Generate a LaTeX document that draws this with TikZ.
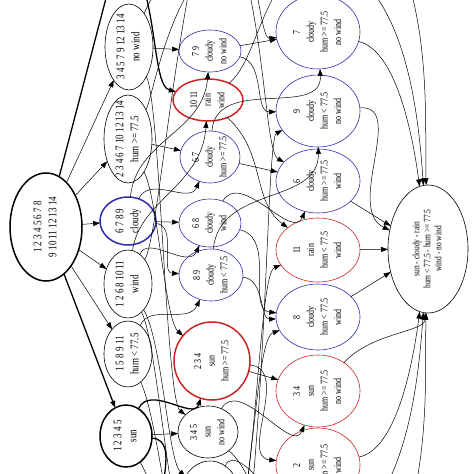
\documentclass[tikz,border=0pt]{standalone}
\usepackage{fontspec}
\setmainfont{Liberation Serif}
\usepackage{graphicx}
\usetikzlibrary{shapes.geometric,arrows.meta}
\definecolor{cblue}{RGB}{45,45,175}
\definecolor{cred}{RGB}{205,35,35}
\newcommand\lb[1]{\smash{\makebox[0pt]{\raisebox{-.32em}{\scalebox{1}[1.3]{\begin{tabular}{@{}c@{}}#1\end{tabular}}}}}}
\begin{document}
\begin{tikzpicture}[x=1pt,y=1pt,
 con/.style={ellipse, draw, rotate=90, inner sep=0pt, outer sep=0pt, line width=0.6pt, font=\fontsize{8}{10.5}\selectfont},
 bigf/.style={font=\fontsize{9}{11.5}\selectfont},
 smallf/.style={font=\fontsize{7.5}{8.5}\selectfont},
 thk/.style={line width=1.5pt},
 blu/.style={draw=cblue},
 rd/.style={draw=cred},
 wh/.style 2 args={minimum height=#1pt, minimum width=#2pt},
 ln/.style={line width=0.5pt, -{Triangle[length=7pt,width=5pt]}},
 tln/.style={ln, line width=1.3pt},
 d1/.style={out=-35,in=145}, d2/.style={out=-65,in=115},
 u1/.style={out=35,in=-145}, u2/.style={out=65,in=-115}]
\useasboundingbox (0,0) rectangle (474,-474);
\clip (0,0) rectangle (474,-474);
% off-picture ends
\coordinate (Rn) at (120,55);
\coordinate (P101214) at (210,35);
\coordinate (P2610) at (210,105);
\coordinate (P347) at (210,175);
\coordinate (P15) at (210,-575);
\coordinate (P1811) at (210,-640);
\coordinate (P59) at (210,-705);
\coordinate (Q10) at (318,45);
\coordinate (Q121314) at (318,125);
\coordinate (Q1) at (318,-545);
\coordinate (Q5) at (318,-625);
% top
\node[con,bigf,thk,wh={72}{108}] (T) at (46,-227) {\lb{1 2 3 4 5 6 7 8\\9 10 11 12 13 14}};
% column 1
\node[con,bigf,wh={48}{86}] (NW) at (129,-47) {\lb{3 4 5 7 9 12 13 14\\no wind}};
\node[con,bigf,wh={48}{88}] (HH) at (128,-139) {\lb{2 3 4 6 7 10 12 13 14\\hum >= 77.5}};
\node[con,bigf,thk,blu,wh={56}{48}] (CL) at (128,-221) {\lb{6 7 8 9\\cloudy}};
\node[con,bigf,wh={48}{68}] (WI) at (128,-284) {\lb{1 2 6 8 10 11\\wind}};
\node[con,bigf,wh={48}{66}] (HL) at (128,-354) {\lb{1 5 8 9 11\\hum < 77.5}};
\node[con,bigf,thk,wh={52}{62}] (SU) at (126,-436) {\lb{1 2 3 4 5\\sun}};
% column 2
\node[con,blu,wh={62}{42}] (N79) at (210,-51) {\lb{7 9\\cloudy\\no wind}};
\node[con,rd,thk,wh={70}{42}] (N1011) at (208,-100) {\lb{10 11\\rain\\wind}};
\node[con,blu,wh={60}{52}] (N67) at (210,-157) {\lb{6 7\\cloudy\\hum >= 77.5}};
\node[con,blu,wh={62}{48}] (N68) at (210,-223) {\lb{6 8\\cloudy\\wind}};
\node[con,blu,wh={64}{52}] (N89) at (211,-275) {\lb{8 9\\cloudy\\hum < 77.5}};
\node[con,rd,thk,wh={76}{78}] (N234) at (212,-361) {\lb{2 3 4\\sun\\hum >= 77.5}};
\node[con,wh={60}{52}] (N345) at (208,-432) {\lb{3 4 5\\sun\\no wind}};
\node[con,wh={62}{78}] (N12) at (210,-500) {\lb{1 2\\sun\\wind}};
% column 3
\node[con,blu,wh={84}{74}] (N7) at (318,-32) {\lb{7\\cloudy\\hum >= 77.5\\no wind}};
\node[con,blu,wh={84}{72}] (N9) at (318,-111) {\lb{9\\cloudy\\hum < 77.5\\no wind}};
\node[con,blu,wh={84}{64}] (N6) at (318,-181) {\lb{6\\cloudy\\hum >= 77.5\\wind}};
\node[con,rd,wh={84}{64}] (N11) at (318,-250) {\lb{11\\rain\\hum < 77.5\\wind}};
\node[con,blu,wh={84}{66}] (N8) at (318,-317) {\lb{8\\cloudy\\hum < 77.5\\wind}};
\node[con,rd,wh={84}{72}] (N34) at (318,-391) {\lb{3 4\\sun\\hum >= 77.5\\no wind}};
\node[con,rd,wh={84}{74}] (N2) at (318,-465) {\lb{2\\sun\\hum >= 77.5\\wind}};
% bottom
\node[con,smallf,wh={80}{128}] (B) at (428,-249) {\lb{sun - cloudy - rain\\hum < 77.5 - hum >= 77.5\\wind - no wind}};
% edges from top
\draw[tln] (T) -- (Rn);
\draw[ln] (T) -- (NW);
\draw[ln] (T) -- (HH);
\draw[ln] (T) -- (CL);
\draw[ln] (T) -- (WI);
\draw[ln] (T) -- (HL);
\draw[tln] (T) -- (SU);
% column 1 to column 2
\draw[tln] (Rn) .. controls (160,20) and (150,-85) .. (N1011);
\draw[ln] (NW) -- (N79);
\draw[ln] (NW) .. controls (160,-100) and (166,-400) .. (N345);
\draw[ln] (NW) .. controls (150,0) and (175,40) .. (P347);
\draw[ln] (HH) .. controls (158,-200) and (165,-320) .. (N234);
\draw[ln] (HH) .. controls (152,-100) and (166,-10) .. (P101214);
\draw[ln] (HH) -- (N67);
\draw[ln] (CL) to[u2] (N79);
\draw[ln] (CL) to[u1] (N67);
\draw[ln] (CL) -- (N68);
\draw[ln] (CL) to[d1] (N89);
\draw[ln] (WI) to[u2] (N1011);
\draw[ln] (WI) to[u1] (N68);
\draw[ln] (WI) .. controls (158,-240) and (172,-40) .. (P2610);
\draw[ln] (WI) .. controls (162,-340) and (168,-460) .. (N12);
\draw[ln] (WI) .. controls (160,-350) and (170,-560) .. (P1811);
\draw[ln] (HL) to[u1] (N89);
\draw[ln] (HL) .. controls (158,-420) and (168,-540) .. (P59);
\draw[tln] (SU) to[u1] (N234);
\draw[ln] (SU) -- (N345);
\draw[tln] (SU) to[d1] (N12);
\draw[ln] (SU) .. controls (150,-480) and (165,-520) .. (P15);
% column 2 to column 3
\draw[ln] (N79) -- (N7);
\draw[ln] (N79) to[d1] (N9);
\draw[ln] (N67) to[u2] (N7);
\draw[ln] (N67) -- (N6);
\draw[ln] (N68) to[u1] (N6);
\draw[ln] (N68) to[d1] (N8);
\draw[ln] (N89) to[u2] (N9);
\draw[ln] (N89) to[d1] (N8);
\draw[ln] (N1011) to[d2] (N11);
\draw[ln] (N1011) .. controls (258,-60) and (262,20) .. (Q10);
\draw[ln] (N234) -- (N34);
\draw[ln] (N234) to[d1] (N2);
\draw[ln] (N345) to[u1] (N34);
\draw[ln] (N345) .. controls (262,-480) and (268,-560) .. (Q5);
\draw[ln] (P347) .. controls (255,80) and (258,-40) .. (N7);
\draw[ln] (P2610) .. controls (266,40) and (262,-150) .. (N6);
\draw[ln] (N12) to[u1] (N2);
\draw[ln] (N12) .. controls (262,-500) and (270,-530) .. (Q1);
\draw[ln] (P59) .. controls (268,-600) and (264,-140) .. (N9);
\draw[ln] (P1811) .. controls (258,-560) and (256,-275) .. (N11);
\draw[ln] (P1811) .. controls (254,-560) and (252,-340) .. (N8);
% column 3 to bottom
\draw[ln] (N7) .. controls (395,-50) and (412,-130) .. (B);
\draw[ln] (Q10) .. controls (405,25) and (418,-110) .. (B);
\draw[ln] (Q121314) .. controls (440,80) and (424,-110) .. (B);
\draw[ln] (N9) to[out=-20,in=125] (B);
\draw[ln] (N6) -- (B);
\draw[ln] (N11) -- (B);
\draw[ln] (N8) -- (B);
\draw[ln] (N34) to[out=20,in=-125] (B);
\draw[ln] (N2) .. controls (395,-450) and (412,-370) .. (B);
\draw[ln] (Q1) .. controls (405,-525) and (418,-385) .. (B);
\draw[ln] (Q5) .. controls (440,-580) and (424,-385) .. (B);
\end{tikzpicture}
\end{document}
